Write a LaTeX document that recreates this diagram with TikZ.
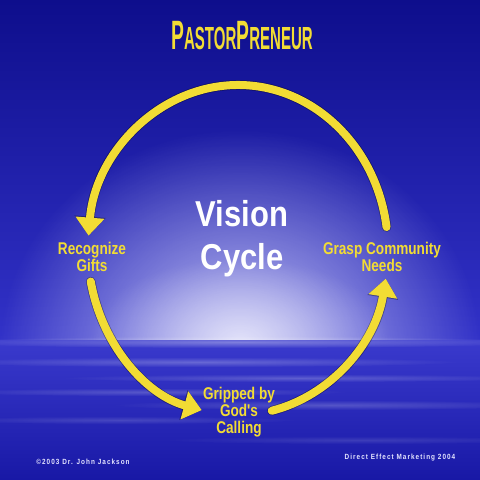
\documentclass[tikz,border=0pt]{standalone}
\usepackage{fontspec}
\setmainfont{Liberation Sans}
\newfontfamily\condfont[FakeStretch=0.8]{Liberation Sans}
\newfontfamily\bigfont[FakeStretch=0.86]{Liberation Sans}
\newfontfamily\titlefont[FakeStretch=0.47]{Liberation Sans}
\newfontfamily\footfont[LetterSpace=14,FakeStretch=0.85]{Liberation Sans}
\usetikzlibrary{arrows.meta,fadings}
\definecolor{bgtop}{RGB}{14,14,140}
\definecolor{bgmid}{RGB}{50,50,200}
\definecolor{watertop}{RGB}{58,58,205}
\definecolor{waterbot}{RGB}{24,24,165}
\definecolor{glowc}{RGB}{215,215,250}
\definecolor{gold}{RGB}{242,220,52}
\tikzfading[name=fuzzy, inner color=transparent!0, outer color=transparent!100]
\begin{document}
\begin{tikzpicture}[x=1pt,y=-1pt,
  cyc/.style={draw=gold, line width=8pt, line cap=round, -{Triangle[width=28pt,length=18pt]}},
  cycsh/.style={draw=black, opacity=.35, line width=9.5pt, line cap=round, -{Triangle[width=30pt,length=19pt]}},
  lbl/.style={text=gold, font=\condfont\bfseries\fontsize{17}{17}\selectfont, align=center, inner sep=0pt},
  big/.style={text=white, font=\bigfont\bfseries\fontsize{36}{43}\selectfont, align=center, inner sep=0pt},
  foot/.style={text=white!90!blue, font=\footfont\bfseries\fontsize{7.5}{9}\selectfont, inner sep=0pt},
  streak/.style={fill=white, path fading=fuzzy}
]
\useasboundingbox (0,0) rectangle (480,480);
% sky
\shade[top color=bgtop, bottom color=bgmid] (0,0) rectangle (480,340);
\begin{scope}
  \clip (0,0) rectangle (480,340);
  \fill[glowc, opacity=.9, path fading=fuzzy] (240,350) ellipse [x radius=240, y radius=220];
  \fill[white, opacity=.5, path fading=fuzzy] (240,338) ellipse [x radius=150, y radius=80];
\end{scope}
% water
\shade[top color=watertop, bottom color=waterbot] (0,340) rectangle (480,480);
\fill[streak, opacity=.35] (240,342) ellipse [x radius=300, y radius=6];
\fill[streak, opacity=.25] (200,362) ellipse [x radius=260, y radius=5];
\fill[streak, opacity=.22] (300,378) ellipse [x radius=240, y radius=4];
\fill[streak, opacity=.2] (150,392) ellipse [x radius=200, y radius=4];
\fill[streak, opacity=.2] (330,405) ellipse [x radius=220, y radius=5];
\fill[streak, opacity=.15] (120,420) ellipse [x radius=180, y radius=4];
\fill[streak, opacity=.12] (360,440) ellipse [x radius=200, y radius=4];
% title
\node[text=gold, inner sep=0pt, anchor=base] (title) at (242,49)
  {\titlefont\bfseries\fontsize{41}{41}\selectfont P\fontsize{32}{32}\selectfont ASTOR\fontsize{41}{41}\selectfont P\fontsize{32}{32}\selectfont RENEUR};
% cycle
\coordinate (c) at (238,250);
\begin{scope}[shift={(1.5,1.5)}]
\draw[cycsh] ([shift={(-8:150 and 165)}]c) arc[start angle=-8, end angle=-175, x radius=150, y radius=165];
\draw[cycsh] ([shift={(169:150 and 165)}]c) arc[start angle=169, end angle=104, x radius=150, y radius=165];
\draw[cycsh] ([shift={(77:150 and 165)}]c) arc[start angle=77, end angle=10, x radius=150, y radius=165];
\end{scope}
\draw[cyc] ([shift={(-8:150 and 165)}]c) arc[start angle=-8, end angle=-175, x radius=150, y radius=165];
\draw[cyc] ([shift={(169:150 and 165)}]c) arc[start angle=169, end angle=104, x radius=150, y radius=165];
\draw[cyc] ([shift={(77:150 and 165)}]c) arc[start angle=77, end angle=10, x radius=150, y radius=165];
% texts
\node[big] (vision) at (242,239) {Vision\\Cycle};
\node[lbl] (gifts) at (92,257) {Recognize\\Gifts};
\node[lbl] (needs) at (382,257) {Grasp Community\\Needs};
\node[lbl] (called) at (239,412) {Gripped by\\God's\\Calling};
\node[foot] (copy) at (83,462) {©2003 Dr. John Jackson};
\node[foot] (dem) at (400,458) {Direct Effect Marketing 2004};
\end{tikzpicture}
\end{document}
